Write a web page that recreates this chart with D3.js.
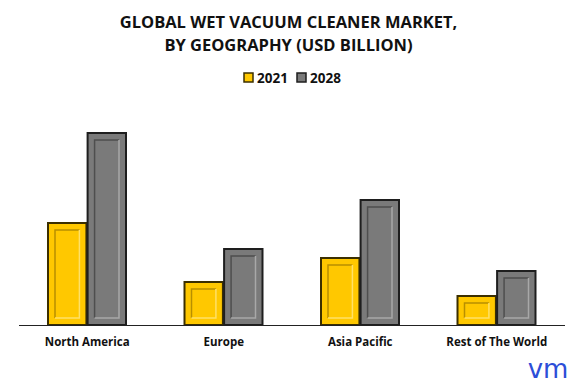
<!DOCTYPE html>
<html>
<head>
<meta charset="utf-8">
<script src="https://cdn.jsdelivr.net/npm/d3@7"></script>
<style>
  body { margin: 0; background: #fff; }
  text { font-family: "Open Sans", sans-serif; }
</style>
</head>
<body>
<div id="chart"></div>
<script>
// data (USD billion, estimated)
var regions = ["North America", "Europe", "Asia Pacific", "Rest of The World"];
var years = ["2021", "2028"];
var values2021 = [1.02, 0.43, 0.67, 0.29];
var values2028 = [1.92, 0.76, 1.25, 0.54];

var width = 577, height = 387;
var margin = {top: 100, right: 12, bottom: 62, left: 19};

var data = regions.map(function(r, i) {
  return {region: r, values: [values2021[i], values2028[i]]};
});

var colors = {
  "2021": {fill: "#ffc800", stroke: "#3b2f00", dark: "#b88f00", light: "#ffe066"},
  "2028": {fill: "#7a7a7a", stroke: "#1e1e1e", dark: "#4e4e4e", light: "#a8a8a8"}
};

var svg = d3.select("#chart").append("svg")
  .attr("width", width)
  .attr("height", height);

// title
svg.append("text")
  .attr("x", width / 2).attr("y", 28)
  .attr("text-anchor", "middle")
  .style("font-size", "16.5px").style("font-weight", "bold")
  .attr("fill", "#111")
  .text("GLOBAL WET VACUUM CLEANER MARKET,");
svg.append("text")
  .attr("x", width / 2).attr("y", 51)
  .attr("text-anchor", "middle")
  .style("font-size", "16.5px").style("font-weight", "bold")
  .attr("fill", "#111")
  .text("BY GEOGRAPHY (USD BILLION)");

var x0 = d3.scaleBand().domain(regions)
  .range([margin.left, width - margin.right]);

var x1 = d3.scaleBand().domain(years)
  .range([29, 107])
  .paddingInner(0.03);

var baseY = height - margin.bottom; // 325
var y = d3.scaleLinear().domain([0, 2.0]).range([baseY, baseY - 200]);

var g = svg.append("g");

var groups = g.selectAll("g.grp").data(data).enter().append("g")
  .attr("class", "grp")
  .attr("transform", function(d) { return "translate(" + x0(d.region) + ",0)"; });

var bars = groups.selectAll("g.bar")
  .data(function(d) { return years.map(function(yr, i) { return {year: yr, value: d.values[i]}; }); })
  .enter().append("g").attr("class", "bar");

bars.append("rect")
  .attr("x", function(d) { return x1(d.year); })
  .attr("y", function(d) { return y(d.value); })
  .attr("width", x1.bandwidth())
  .attr("height", function(d) { return baseY - y(d.value); })
  .attr("fill", function(d) { return colors[d.year].fill; })
  .attr("stroke", function(d) { return colors[d.year].stroke; })
  .attr("stroke-width", 2);

// bevelled inner panel
var inset = 7;
bars.each(function(d) {
  var b = d3.select(this);
  var bx = x1(d.year), by = y(d.value), bw = x1.bandwidth(), bh = baseY - y(d.value);
  var ix = bx + inset, iy = by + inset, iw = bw - 2 * inset, ih = bh - 2 * inset;
  if (ih < 4) { ih = Math.max(bh - 8, 2); iy = by + (bh - ih) / 2; }
  var c = colors[d.year];
  b.append("path")
    .attr("d", "M" + ix + "," + (iy + ih) + "V" + iy + "H" + (ix + iw))
    .attr("fill", "none").attr("stroke", c.dark).attr("stroke-width", 1.5);
  b.append("path")
    .attr("d", "M" + (ix + iw) + "," + iy + "V" + (iy + ih) + "H" + ix)
    .attr("fill", "none").attr("stroke", c.light).attr("stroke-width", 1.5);
});

// baseline
g.append("line")
  .attr("x1", margin.left).attr("x2", width - margin.right)
  .attr("y1", baseY + 0.5).attr("y2", baseY + 0.5)
  .attr("stroke", "#222").attr("stroke-width", 1.2);

// category labels
var xAxis = d3.axisBottom(x0).tickSize(0).tickPadding(12);
var ax = svg.append("g")
  .attr("transform", "translate(0," + (baseY + 1) + ")")
  .call(xAxis);
ax.select(".domain").remove();
ax.selectAll("text")
  .style("font-family", "Open Sans, sans-serif")
  .style("font-size", "11.5px").style("font-weight", "bold")
  .attr("fill", "#111");

// legend
var legend = svg.append("g");
var legX = [244, 297];
years.forEach(function(yr, i) {
  var c = colors[yr];
  legend.append("rect")
    .attr("x", legX[i]).attr("y", 73)
    .attr("width", 9).attr("height", 9)
    .attr("fill", c.fill).attr("stroke", c.stroke).attr("stroke-width", 1.5);
  legend.append("text")
    .attr("x", legX[i] + 13).attr("y", 83)
    .style("font-size", "13.5px").style("font-weight", "bold")
    .attr("fill", "#111")
    .text(yr);
});

// logo
svg.append("text")
  .attr("x", 548).attr("y", 378)
  .attr("text-anchor", "middle")
  .style("font-family", "DejaVu Sans, sans-serif")
  .style("font-size", "26px")
  .attr("fill", "#2d4ed8")
  .text("vm");
</script>
</body>
</html>
